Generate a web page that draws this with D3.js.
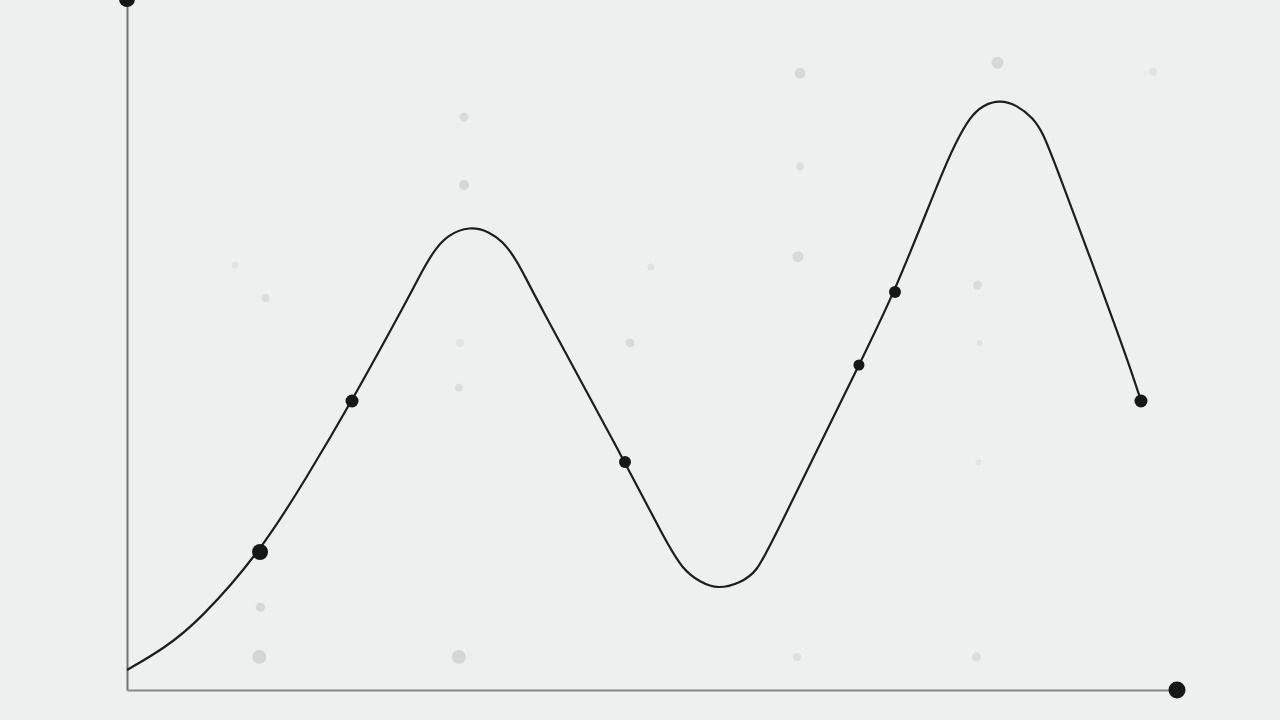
<!DOCTYPE html>
<html>
<head>
<meta charset="utf-8">
<script src="https://cdn.jsdelivr.net/npm/d3@7"></script>
<style>
  html, body { margin: 0; padding: 0; background: #eef0f0; }
  svg { display: block; }
</style>
</head>
<body>
<svg id="chart" width="1280" height="720"></svg>
<script>
// ---- data (x, y in chart units 0..100) ----
const curveX = [0.0, 3.62, 6.95, 12.67, 16.95, 21.43, 26.95, 27.90, 29.14, 30.48, 32.67, 34.57, 35.81, 36.76, 37.71, 38.67, 47.43, 51.24, 52.95, 54.57, 56.29, 58.38, 60.0, 61.52, 69.71, 73.14, 77.71, 79.05, 80.29, 81.52, 83.14, 84.76, 86.29, 87.24, 88.38, 95.24, 96.57];
const curveY = [2.90, 6.09, 10.14, 20.0, 30.4, 41.88, 57.25, 60.14, 63.48, 65.94, 67.25, 66.38, 64.93, 63.04, 60.58, 57.54, 33.04, 21.74, 17.40, 15.65, 14.60, 15.51, 17.10, 21.74, 47.10, 57.68, 75.36, 79.71, 83.04, 84.78, 85.50, 84.78, 82.90, 80.72, 76.38, 48.26, 41.88];

const markerX = [12.67, 21.43, 47.43, 69.71, 73.14, 96.57];
const markerY = [20.0, 41.88, 33.04, 47.10, 57.68, 41.88];

const bgX = [32.1, 32.1, 10.3, 13.2, 49.9, 47.9, 31.7, 31.6, 12.7, 12.6, 31.6, 63.8, 80.9, 81.1, 64.1, 82.9, 97.7, 64.1, 63.9, 81.0, 81.2];
const bgY = [83.0, 73.2, 61.6, 56.8, 61.3, 50.3, 50.3, 43.8, 12.0, 4.8, 4.8, 4.8, 4.8, 33.0, 89.4, 90.9, 89.6, 75.9, 62.8, 58.7, 50.3];

const xDomain = [0, 100];
const yDomain = [0, 100];

(function () {
  const svg = d3.select("#chart");
  const mLeft = 127, mRight = 1177, mTop = 0, mBottom = 690;

  const x = d3.scaleLinear().domain(xDomain).range([mLeft, mRight]);
  const y = d3.scaleLinear().domain(yDomain).range([mBottom, mTop]);

  // background faint dots
  const bgR = [4.5, 5, 3.5, 4, 3.5, 4.5, 4, 4, 4.5, 7, 7, 4, 4.5, 3, 5.5, 6, 4, 4, 5.5, 4.5, 3];
  const bgC = ["#d9dbdb","#d6d8d8","#e2e4e4","#dcdede","#e0e2e2","#d9dbdb","#e1e3e3","#dcdede","#d6d8d8","#d4d6d6","#d4d6d6","#dfe1e1","#dcdede","#e2e4e4","#d8dada","#d6d8d8","#e2e4e4","#dddfdf","#d8dada","#dadcdc","#e0e2e2"];
  svg.append("g").selectAll("circle")
    .data(bgX.map((v, i) => ({x: v, y: bgY[i], i})))
    .join("circle")
    .attr("cx", d => x(d.x))
    .attr("cy", d => y(d.y))
    .attr("r", d => bgR[d.i])
    .attr("fill", d => bgC[d.i]);

  // axes
  const yAxis = d3.axisLeft(y).ticks(0).tickSize(0).tickSizeOuter(0);
  const xAxis = d3.axisBottom(x).ticks(0).tickSize(0).tickSizeOuter(0);

  const gy = svg.append("g").attr("transform", `translate(${mLeft},0)`).call(yAxis);
  gy.select(".domain").attr("stroke", "#6f7272").attr("stroke-width", 2);
  gy.selectAll(".tick").remove();
  const gx = svg.append("g").attr("transform", `translate(0,${mBottom})`).call(xAxis);
  gx.select(".domain").attr("stroke", "#858888").attr("stroke-width", 2.2);
  gx.selectAll(".tick").remove();

  // axis end dots
  svg.append("circle").attr("cx", x(xDomain[0])).attr("cy", y(yDomain[1]) - 1).attr("r", 8).attr("fill", "#161818");
  svg.append("circle").attr("cx", x(xDomain[1])).attr("cy", y(yDomain[0])).attr("r", 8.5).attr("fill", "#161818");

  // curve
  const pts = curveX.map((v, i) => [v, curveY[i]]);
  const line = d3.line()
    .x(d => x(d[0]))
    .y(d => y(d[1]))
    .curve(d3.curveBasis);

  svg.append("path")
    .datum(pts)
    .attr("d", line)
    .attr("fill", "none")
    .attr("stroke", "#1c1e1e")
    .attr("stroke-width", 2.2)
    .attr("stroke-linejoin", "round");

  // markers
  const mR = [8, 6.5, 6, 5.5, 6, 6.5];
  svg.append("g").selectAll("circle")
    .data(markerX.map((v, i) => ({x: v, y: markerY[i], i})))
    .join("circle")
    .attr("cx", d => x(d.x))
    .attr("cy", d => y(d.y))
    .attr("r", d => mR[d.i])
    .attr("fill", "#161818");
})();
</script>
</body>
</html>
